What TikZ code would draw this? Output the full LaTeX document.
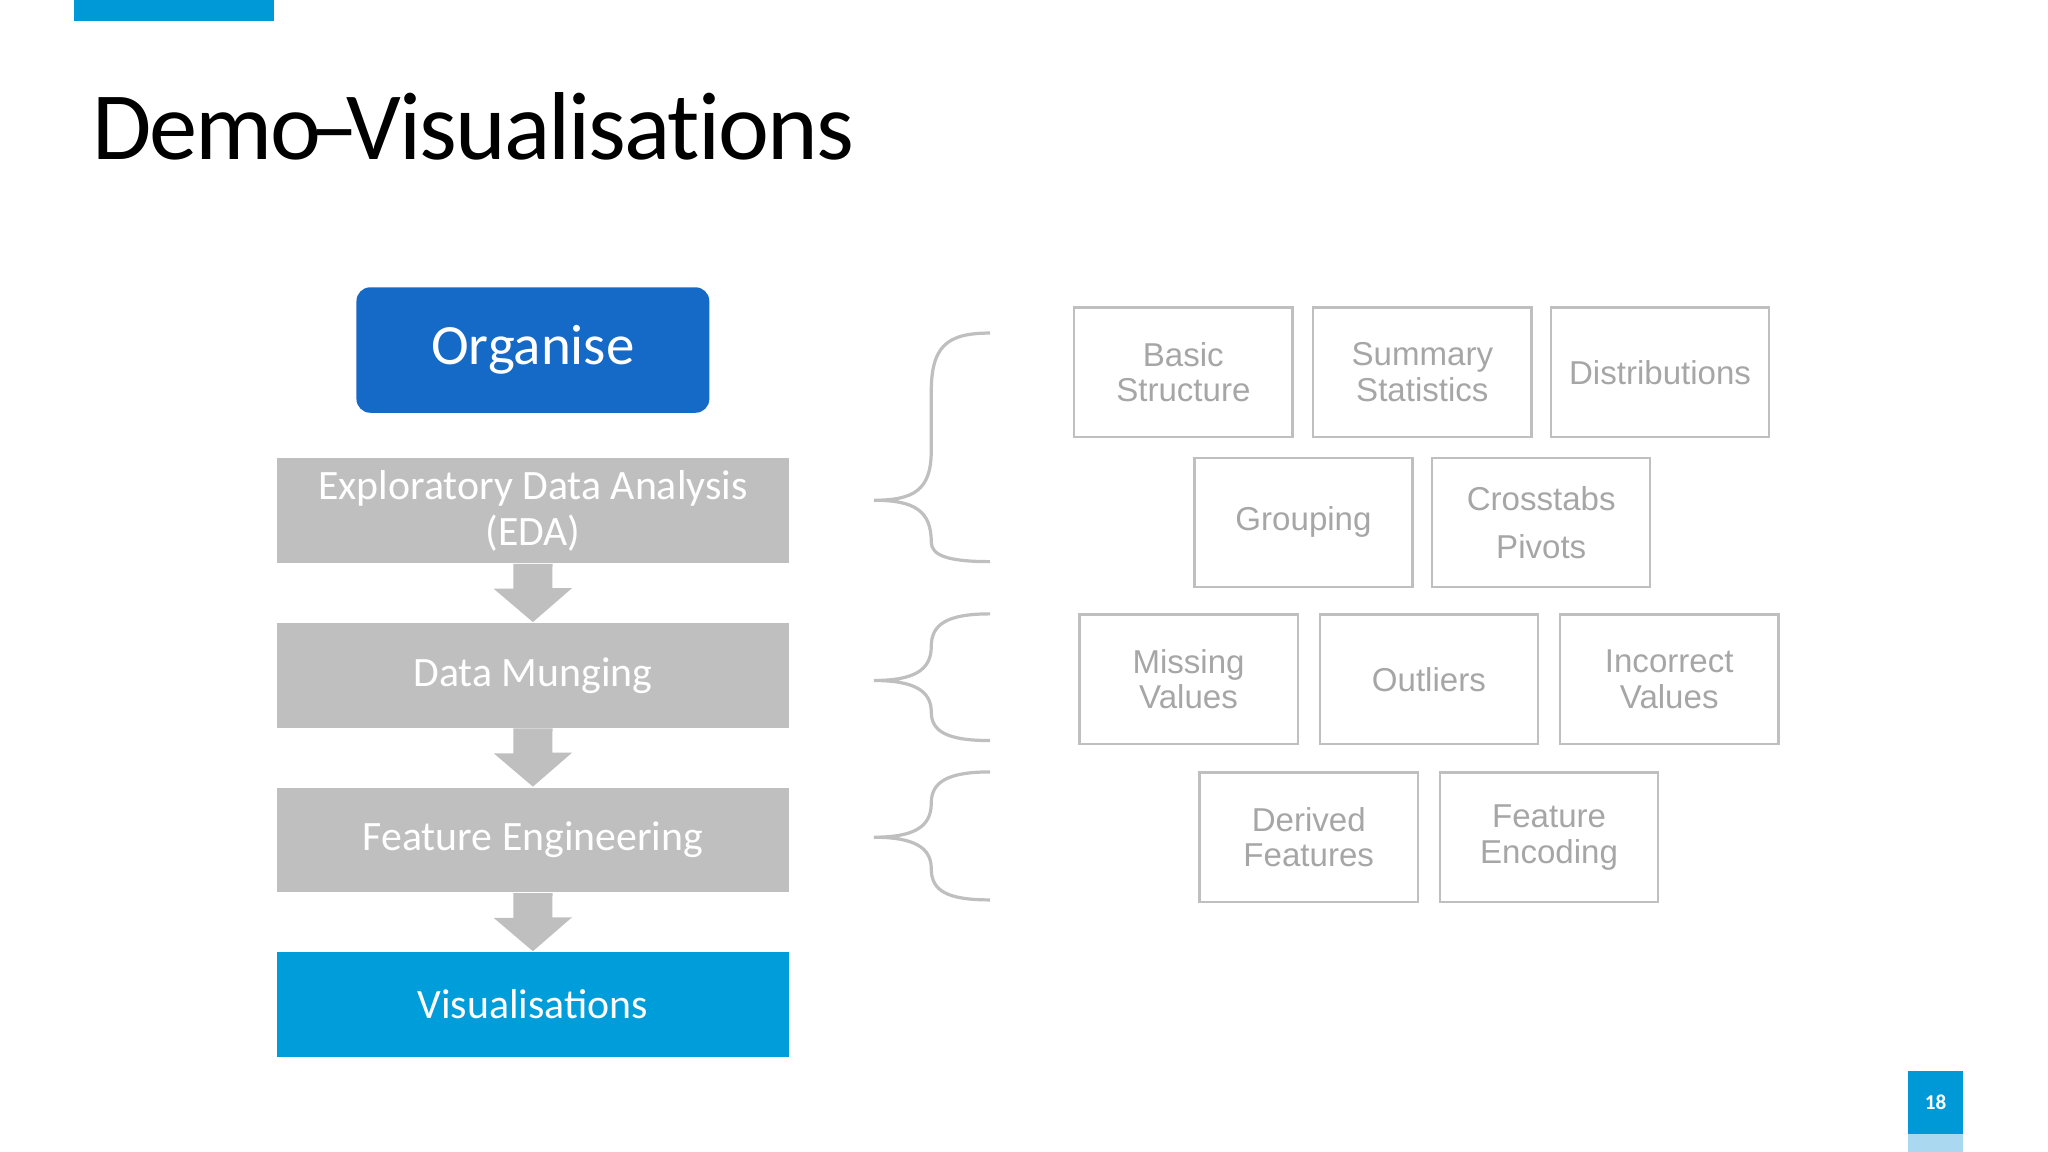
\documentclass[tikz,border=0pt]{standalone}
\usepackage{fontspec}
\setmainfont{Carlito}
\newfontfamily\arialf{Liberation Sans}
\definecolor{topblue}{HTML}{0099D8}
\definecolor{orgblue}{HTML}{1569C7}
\definecolor{visblue}{HTML}{009DDB}
\definecolor{boxgray}{HTML}{BFBFBF}
\definecolor{txtgray}{HTML}{A6A6A6}
\definecolor{lightblue}{HTML}{A9D8F0}
\begin{document}
\begin{tikzpicture}[x=0.01cm,y=-0.01cm,
  stagebox/.style={fill=boxgray,text=white,minimum width=3.92cm,minimum height=0.8cm,inner sep=0pt,
    font=\fontsize{9.1}{10}\selectfont,align=center},
  item/.style={draw=boxgray,line width=0.5pt,text=txtgray,minimum width=1.67cm,minimum height=0.99cm,
    inner sep=0pt,font=\arialf\fontsize{7.2}{7.8}\selectfont,align=center},
  brace/.style={draw=boxgray,line width=0.7pt}]
\useasboundingbox (0,0) rectangle (1568,882);
\fill[topblue] (57,0) rectangle (210,16);
\node[anchor=base west,inner sep=0pt,font=\fontsize{21}{24}\selectfont\addfontfeature{Ligatures=NoCommon,LetterSpace=-2}] (title) at (70,122) {Demo\hspace{-0.12em}–\hspace{-0.12em}Visualisations};
\node[fill=orgblue,rounded corners=3pt,text=white,minimum width=2.7cm,minimum height=0.96cm,
  font=\fontsize{12.4}{14}\selectfont] (org) at (408,268) {Organise};
\node[stagebox] (eda) at (408,391) {Exploratory Data Analysis\\(EDA)};
\node[stagebox] (mung) at (408,517) {Data Munging};
\node[stagebox] (feat) at (408,643) {Feature Engineering};
\node[stagebox,fill=visblue] (vis) at (408,769) {Visualisations};
\foreach \a/\b in {eda/mung,mung/feat,feat/vis}{
  \fill[boxgray] ([xshift=-0.15cm]\a.south) -- ++(0,19) -- ++(-15,0) -- (\b.north) -- ++(30,-26)
    -- ++(-15,0) -- ([xshift=0.15cm]\a.south) -- cycle;
}
% braces
\draw[brace] (758,255) .. controls (725,255) and (713,265) .. (713,300) -- (713,345)
  .. controls (713,375) and (700,383) .. (669,383) .. controls (700,383) and (713,391) .. (713,415)
  .. controls (713,425) and (725,430) .. (758,430);
\draw[brace] (758,470) .. controls (725,470) and (713,478) .. (713,495)
  .. controls (713,513) and (700,521) .. (669,521) .. controls (700,521) and (713,529) .. (713,545)
  .. controls (713,560) and (725,567) .. (758,567);
\draw[brace] (758,591) .. controls (725,591) and (713,599) .. (713,615)
  .. controls (713,633) and (700,641) .. (669,641) .. controls (700,641) and (713,649) .. (713,665)
  .. controls (713,682) and (725,689) .. (758,689);
% items
\node[item] (basic) at (906,285) {Basic\\Structure};
\node[item] (summ) at (1089,285) {Summary\\Statistics};
\node[item] (dist) at (1271,285) {Distributions};
\node[item] (grp) at (998,400) {Grouping};
\node[item,font=\arialf\fontsize{7.2}{10.5}\selectfont] (cross) at (1180,400) {Crosstabs\\Pivots};
\node[item] (miss) at (910,520) {Missing\\Values};
\node[item] (outl) at (1094,520) {Outliers};
\node[item] (inc) at (1278,520) {Incorrect\\Values};
\node[item] (der) at (1002,641) {Derived\\Features};
\node[item] (enc) at (1186,641) {Feature\\Encoding};
% page number
\fill[lightblue] (1461,868) rectangle (1503,882);
\node[fill=topblue,text=white,minimum width=0.42cm,minimum height=0.48cm,inner sep=0pt,
  font=\bfseries\fontsize{4.6}{5}\selectfont] (pg) at (1482,844) {18};
\end{tikzpicture}
\end{document}
